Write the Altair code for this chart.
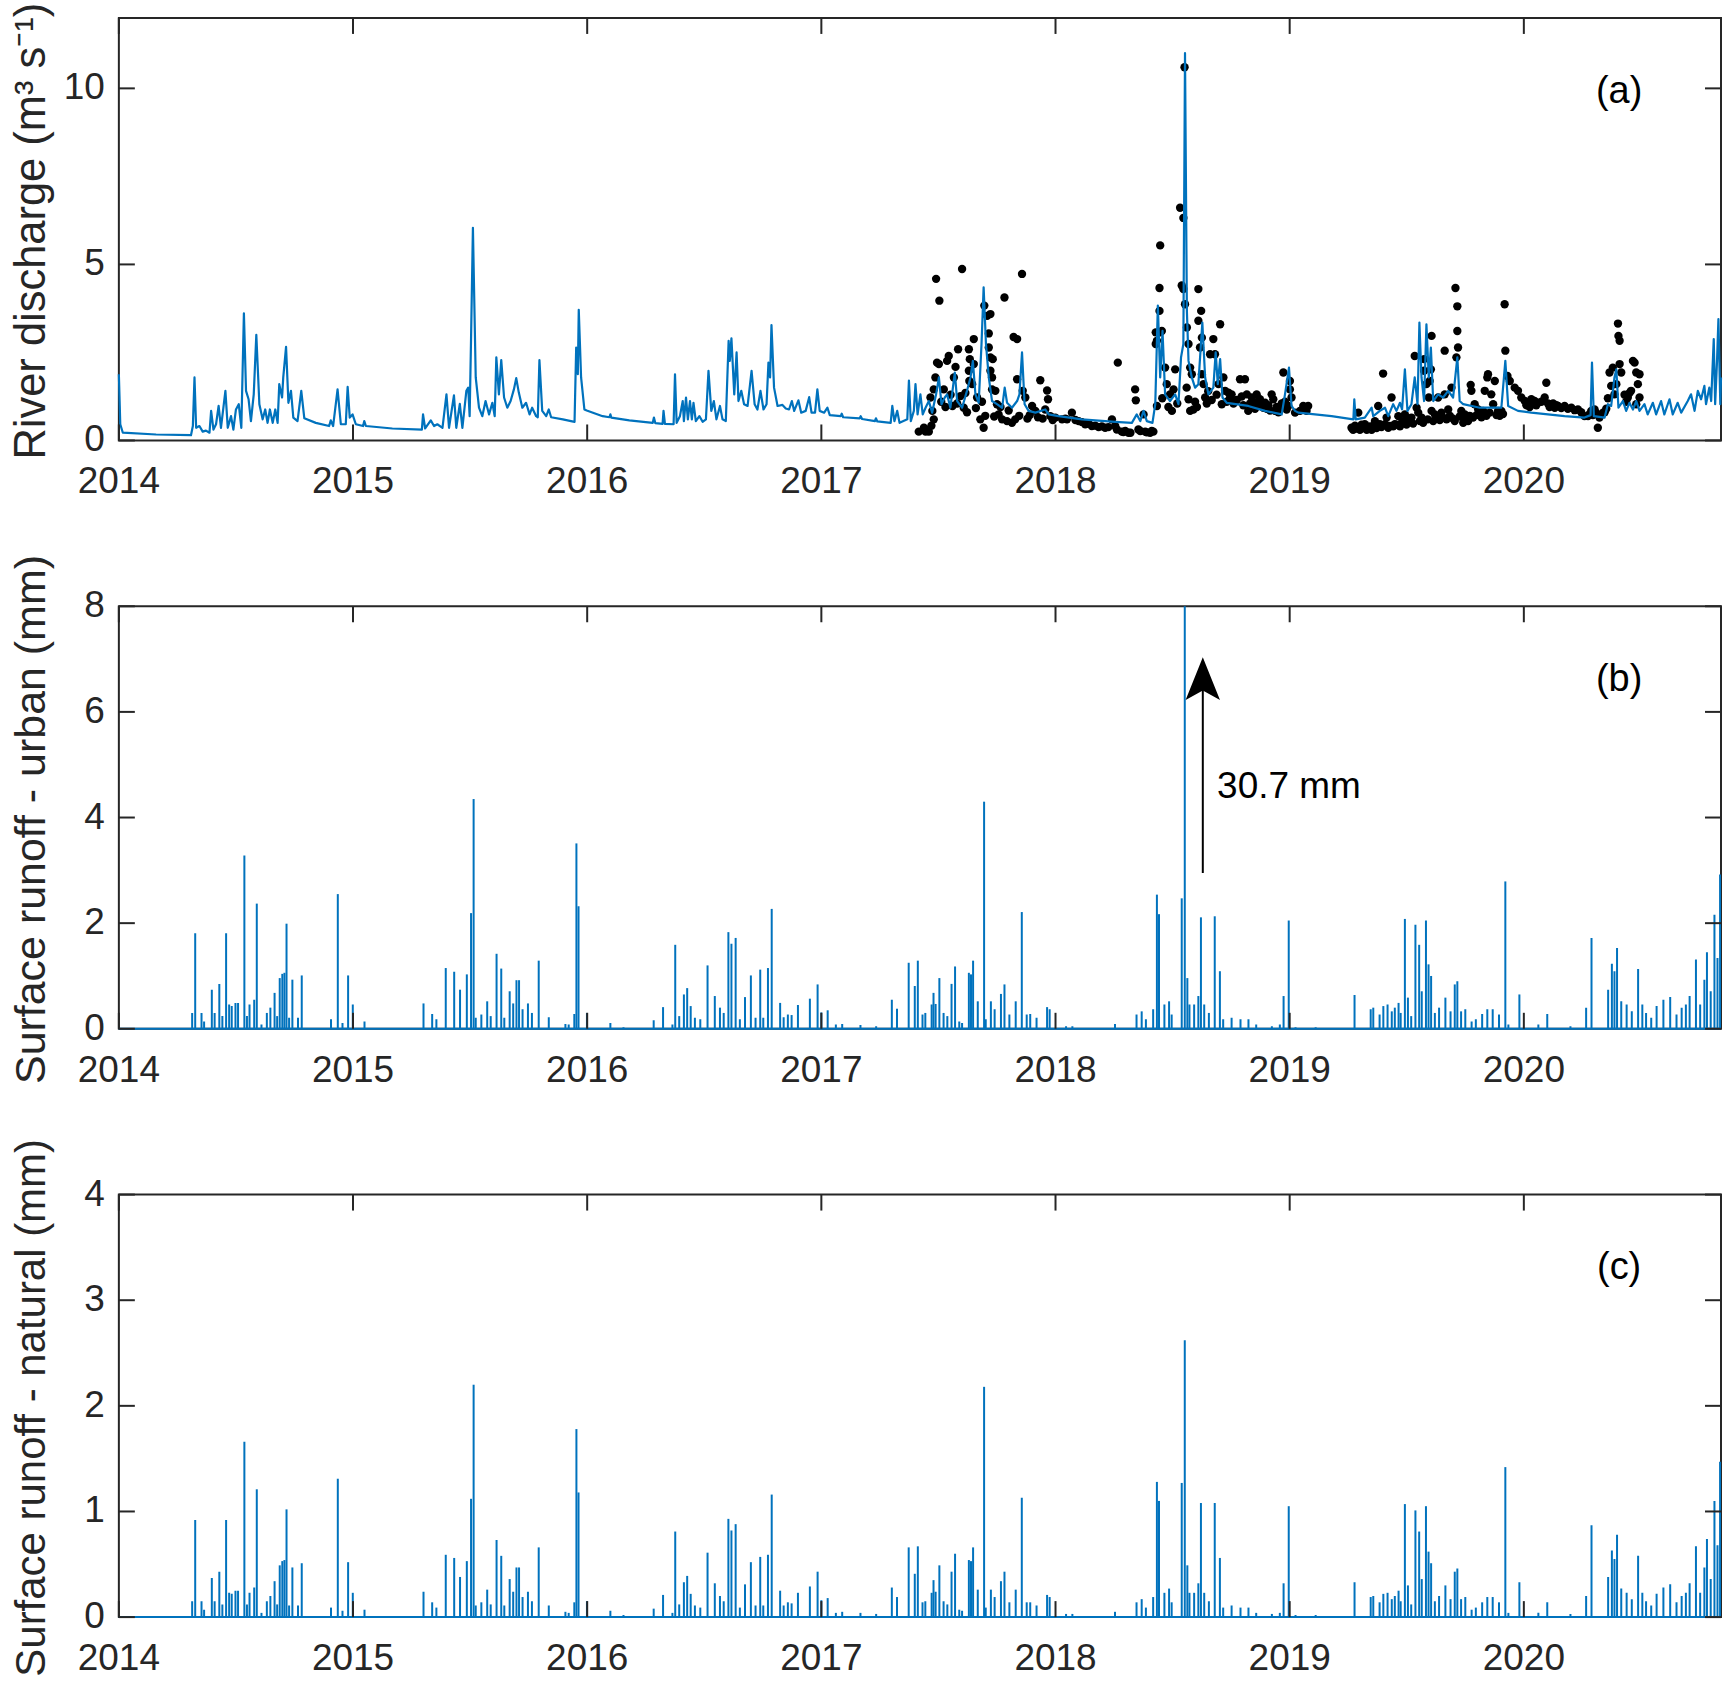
import altair as alt
import pandas as pd

FONT = "Liberation Sans"
INK = "#262626"
BLUE = "#0072BD"
X0, X1 = 2014.0, 2020.842
W, H = 1604, 423
TICK = 16

year_ticks = [2014, 2015, 2016, 2017, 2018, 2019, 2020]

# Simulated river discharge (decimal year, m3/s)
sim_2014 = [
    (2014.000, 1.88), (2014.006, 0.46), (2014.017, 0.22), (2014.159, 0.17), (2014.308, 0.15),
    (2014.316, 0.41), (2014.323, 1.79), (2014.330, 0.36), (2014.344, 0.41), (2014.358, 0.25),
    (2014.372, 0.28), (2014.387, 0.22), (2014.394, 0.84), (2014.404, 0.31), (2014.415, 0.46),
    (2014.426, 0.98), (2014.436, 0.36), (2014.455, 1.41), (2014.465, 0.36), (2014.479, 0.69),
    (2014.489, 0.31), (2014.500, 0.88), (2014.512, 1.03), (2014.523, 0.36), (2014.534, 3.61),
    (2014.543, 1.41), (2014.554, 1.17), (2014.564, 0.55), (2014.576, 1.31), (2014.587, 3.00),
    (2014.600, 1.03), (2014.614, 0.60), (2014.625, 0.88), (2014.635, 0.50), (2014.645, 0.88),
    (2014.657, 0.50), (2014.668, 0.88), (2014.678, 0.50), (2014.685, 1.60), (2014.697, 1.22),
    (2014.702, 1.79), (2014.714, 2.66), (2014.724, 1.07), (2014.735, 1.41), (2014.745, 0.65),
    (2014.763, 0.55), (2014.779, 1.41), (2014.792, 0.63), (2014.841, 0.50), (2014.898, 0.41),
    (2014.905, 0.57), (2014.915, 0.41), (2014.934, 1.45), (2014.948, 0.46), (2014.969, 0.46),
    (2014.977, 1.52), (2014.986, 0.65), (2014.998, 0.74),
]
sim_2015 = [
    (2015.012, 0.46), (2015.043, 0.41), (2015.048, 0.55), (2015.055, 0.41), (2015.168, 0.34),
    (2015.294, 0.31), (2015.299, 0.74), (2015.308, 0.34), (2015.332, 0.57), (2015.346, 0.41),
    (2015.360, 0.46), (2015.382, 0.36), (2015.399, 1.31), (2015.410, 0.36), (2015.431, 1.28),
    (2015.441, 0.36), (2015.456, 1.04), (2015.467, 0.36), (2015.484, 1.41), (2015.492, 1.50),
    (2015.498, 0.69), (2015.504, 2.88), (2015.512, 6.04), (2015.524, 1.79), (2015.538, 0.93),
    (2015.552, 0.69), (2015.566, 1.12), (2015.581, 0.74), (2015.595, 1.07), (2015.605, 0.69),
    (2015.612, 2.36), (2015.623, 1.31), (2015.633, 2.28), (2015.645, 1.22), (2015.659, 0.93),
    (2015.673, 1.12), (2015.687, 1.45), (2015.697, 1.77), (2015.708, 1.36), (2015.723, 0.93),
    (2015.739, 1.07), (2015.754, 0.74), (2015.765, 0.93), (2015.782, 0.69), (2015.789, 0.66),
    (2015.796, 2.28), (2015.808, 0.84), (2015.825, 0.69), (2015.836, 0.88), (2015.846, 0.66),
    (2015.896, 0.60), (2015.946, 0.53), (2015.953, 2.64), (2015.960, 1.88), (2015.964, 3.71),
    (2015.974, 1.79), (2015.988, 0.88), (2015.998, 0.85),
]
sim_2016 = [
    (2016.066, 0.69), (2016.095, 0.66), (2016.099, 0.74), (2016.103, 0.65), (2016.180, 0.57),
    (2016.280, 0.50), (2016.285, 0.65), (2016.291, 0.49), (2016.322, 0.47), (2016.326, 0.84),
    (2016.332, 0.47), (2016.369, 0.46), (2016.375, 1.88), (2016.382, 0.50), (2016.396, 0.69),
    (2016.408, 1.12), (2016.413, 0.55), (2016.422, 1.22), (2016.430, 0.60), (2016.439, 1.12),
    (2016.447, 0.60), (2016.454, 1.07), (2016.464, 0.55), (2016.479, 0.69), (2016.493, 0.53),
    (2016.507, 0.60), (2016.518, 1.98), (2016.530, 0.84), (2016.541, 1.12), (2016.552, 0.60),
    (2016.567, 0.98), (2016.578, 0.60), (2016.592, 0.55), (2016.604, 2.83), (2016.609, 2.26),
    (2016.616, 2.90), (2016.628, 1.31), (2016.638, 2.50), (2016.646, 1.12), (2016.658, 1.41),
    (2016.670, 1.03), (2016.685, 0.98), (2016.702, 1.98), (2016.715, 1.03), (2016.727, 0.88),
    (2016.740, 1.41), (2016.753, 0.88), (2016.766, 1.03), (2016.774, 2.21), (2016.781, 1.79),
    (2016.787, 3.28), (2016.798, 1.50), (2016.813, 0.98), (2016.834, 1.01), (2016.848, 0.91),
    (2016.862, 0.88), (2016.874, 1.12), (2016.884, 0.84), (2016.902, 1.14), (2016.914, 0.79),
    (2016.933, 0.84), (2016.948, 1.23), (2016.958, 0.79), (2016.973, 0.79), (2016.983, 1.45),
    (2016.993, 0.84),
]
sim_2017 = [
    (2017.012, 0.79), (2017.026, 0.93), (2017.036, 0.72), (2017.083, 0.69), (2017.087, 0.76),
    (2017.093, 0.66), (2017.164, 0.63), (2017.168, 0.69), (2017.174, 0.61), (2017.229, 0.55),
    (2017.233, 0.63), (2017.239, 0.54), (2017.296, 0.50), (2017.303, 0.98), (2017.312, 0.55),
    (2017.324, 0.84), (2017.334, 0.50), (2017.367, 0.60), (2017.374, 1.70), (2017.382, 0.55),
    (2017.395, 0.84), (2017.402, 1.60), (2017.411, 0.74), (2017.423, 1.31), (2017.433, 0.74),
    (2017.445, 0.93), (2017.459, 1.12), (2017.473, 0.79), (2017.490, 1.31), (2017.502, 1.79),
    (2017.513, 1.03), (2017.527, 1.22), (2017.537, 1.31), (2017.551, 0.93), (2017.570, 1.93),
    (2017.580, 1.12), (2017.601, 0.93), (2017.622, 1.41), (2017.637, 1.79), (2017.647, 2.26),
    (2017.658, 1.31), (2017.672, 1.07), (2017.684, 2.74), (2017.693, 4.35), (2017.703, 2.74),
    (2017.715, 1.79), (2017.729, 1.12), (2017.750, 1.03), (2017.772, 0.93), (2017.783, 1.50),
    (2017.793, 1.07), (2017.814, 0.93), (2017.836, 1.12), (2017.846, 1.31), (2017.857, 2.50),
    (2017.868, 1.03), (2017.885, 0.84), (2017.914, 0.79), (2017.956, 0.88), (2017.971, 0.74),
]
sim_2018 = [
    (2018.013, 0.69), (2018.113, 0.60), (2018.255, 0.53), (2018.326, 0.50), (2018.347, 0.74),
    (2018.362, 0.55), (2018.376, 0.84), (2018.390, 0.55), (2018.414, 0.50), (2018.426, 1.03),
    (2018.437, 3.83), (2018.447, 1.79), (2018.457, 3.11), (2018.468, 1.31), (2018.489, 1.12),
    (2018.511, 1.31), (2018.525, 1.03), (2018.536, 2.36), (2018.546, 2.74), (2018.553, 11.0),
    (2018.561, 3.68), (2018.568, 2.26), (2018.582, 1.79), (2018.596, 1.50), (2018.610, 1.60),
    (2018.627, 3.35), (2018.639, 1.79), (2018.653, 1.31), (2018.674, 1.50), (2018.684, 2.50),
    (2018.693, 1.60), (2018.703, 2.31), (2018.713, 1.22), (2018.731, 1.07), (2018.823, 0.98),
    (2018.895, 0.84), (2018.966, 0.74), (2018.980, 1.31), (2018.997, 2.07),
]
sim_2019 = [
    (2019.008, 0.98), (2019.023, 0.84), (2019.037, 0.79), (2019.179, 0.69), (2019.272, 0.60),
    (2019.276, 1.17), (2019.282, 0.60), (2019.321, 0.65), (2019.350, 0.93), (2019.357, 0.69),
    (2019.385, 0.84), (2019.407, 0.93), (2019.421, 0.69), (2019.442, 1.03), (2019.456, 0.84),
    (2019.471, 1.07), (2019.480, 0.88), (2019.492, 2.02), (2019.503, 0.84), (2019.520, 1.03),
    (2019.534, 1.79), (2019.546, 1.03), (2019.554, 3.35), (2019.563, 1.79), (2019.574, 1.12),
    (2019.584, 3.30), (2019.594, 1.79), (2019.603, 2.64), (2019.613, 1.12), (2019.634, 1.31),
    (2019.655, 1.22), (2019.677, 1.41), (2019.698, 1.22), (2019.716, 2.36), (2019.726, 1.12),
    (2019.741, 1.03), (2019.812, 0.93), (2019.904, 0.93), (2019.921, 2.26), (2019.933, 0.98),
    (2019.975, 0.84),
]
sim_2020 = [
    (2020.032, 0.79), (2020.174, 0.69), (2020.259, 0.65), (2020.285, 0.72), (2020.291, 2.21),
    (2020.299, 0.69), (2020.345, 0.65), (2020.359, 1.03), (2020.373, 0.98), (2020.387, 1.79),
    (2020.395, 2.02), (2020.404, 0.93), (2020.423, 1.12), (2020.437, 0.84), (2020.451, 1.07),
    (2020.466, 0.88), (2020.480, 1.12), (2020.494, 0.84), (2020.515, 1.03), (2020.529, 0.74),
    (2020.551, 1.07), (2020.565, 0.74), (2020.586, 1.12), (2020.600, 0.74), (2020.622, 1.17),
    (2020.636, 0.74), (2020.657, 1.07), (2020.672, 0.79), (2020.700, 1.12), (2020.714, 1.31),
    (2020.729, 0.84), (2020.743, 1.41), (2020.757, 1.17), (2020.771, 1.55), (2020.778, 1.03),
    (2020.792, 1.50), (2020.800, 1.12), (2020.811, 2.88), (2020.817, 1.03), (2020.825, 2.26),
    (2020.831, 3.45), (2020.839, 1.03), (2020.842, 1.79),
]

# Observed river discharge (decimal year, m3/s)
obs_2017 = [
    (2017.416, 0.25), (2017.438, 0.36), (2017.445, 0.25), (2017.459, 0.25), (2017.466, 1.22),
    (2017.474, 0.84), (2017.480, 0.60), (2017.480, 1.45), (2017.487, 1.79), (2017.490, 4.59),
    (2017.494, 2.21), (2017.502, 2.17), (2017.504, 3.97), (2017.523, 1.45), (2017.537, 2.26),
    (2017.544, 2.40), (2017.566, 1.79), (2017.573, 2.09), (2017.584, 2.59), (2017.594, 1.26),
    (2017.601, 4.87), (2017.608, 0.93), (2017.630, 2.59), (2017.634, 2.31), (2017.630, 1.98),
    (2017.632, 1.69), (2017.644, 1.60), (2017.651, 2.88), (2017.651, 2.17), (2017.665, 1.22),
    (2017.679, 0.60), (2017.693, 0.36), (2017.696, 3.83), (2017.708, 3.54), (2017.715, 3.04),
    (2017.715, 2.64), (2017.722, 3.59), (2017.722, 2.36), (2017.722, 1.98), (2017.729, 1.79),
    (2017.729, 1.45), (2017.732, 2.31), (2017.743, 1.41), (2017.750, 1.03), (2017.757, 0.74),
    (2017.772, 0.60), (2017.782, 4.06), (2017.793, 0.55), (2017.814, 0.50), (2017.821, 2.94),
    (2017.836, 2.88), (2017.836, 1.74), (2017.857, 4.73), (2017.860, 1.41), (2017.871, 1.22),
    (2017.900, 0.98), (2017.914, 0.84), (2017.935, 1.71), (2017.956, 0.88), (2017.964, 1.42),
    (2017.968, 1.17), (2017.978, 0.69), (2017.999, 0.65),
    (2017.452, 0.30), (2017.470, 0.42), (2017.512, 1.10), (2017.530, 0.95), (2017.552, 1.30),
    (2017.560, 0.98), (2017.580, 1.05), (2017.615, 1.35), (2017.622, 0.80), (2017.660, 0.92),
    (2017.686, 1.10), (2017.700, 0.70), (2017.738, 0.68), (2017.765, 0.95), (2017.800, 0.85),
    (2017.828, 0.60), (2017.845, 0.70), (2017.880, 0.62), (2017.890, 0.72), (2017.925, 0.66),
    (2017.945, 0.62), (2017.988, 0.58),
]
obs_2018 = [
    (2018.028, 0.60), (2018.042, 0.62), (2018.049, 0.60), (2018.070, 0.79), (2018.085, 0.58),
    (2018.099, 0.55), (2018.113, 0.52), (2018.127, 0.46), (2018.141, 0.48), (2018.155, 0.41),
    (2018.170, 0.42), (2018.184, 0.38), (2018.198, 0.40), (2018.212, 0.36), (2018.226, 0.38),
    (2018.241, 0.60), (2018.255, 0.41), (2018.262, 0.31), (2018.266, 2.21), (2018.283, 0.25),
    (2018.290, 0.24), (2018.298, 0.27), (2018.312, 0.22), (2018.320, 0.22), (2018.340, 1.45),
    (2018.343, 1.14), (2018.354, 0.31), (2018.362, 0.27), (2018.376, 0.74), (2018.383, 0.25),
    (2018.390, 0.23), (2018.404, 0.22), (2018.411, 0.27), (2018.418, 0.25), (2018.428, 2.74),
    (2018.428, 3.07), (2018.433, 0.98), (2018.433, 2.83), (2018.444, 4.33), (2018.444, 3.68),
    (2018.447, 5.54), (2018.447, 3.07), (2018.454, 3.11), (2018.468, 2.07), (2018.475, 1.60),
    (2018.489, 1.31), (2018.497, 0.84), (2018.511, 2.02), (2018.532, 6.61), (2018.539, 4.40),
    (2018.546, 6.32), (2018.546, 4.30), (2018.551, 10.6), (2018.553, 3.87), (2018.561, 3.21),
    (2018.568, 2.74), (2018.568, 1.17), (2018.575, 2.07), (2018.575, 0.84), (2018.582, 1.88),
    (2018.589, 0.88), (2018.610, 4.30), (2018.610, 3.40), (2018.617, 2.64), (2018.622, 3.68),
    (2018.625, 2.92), (2018.625, 1.88), (2018.632, 1.60), (2018.639, 1.22), (2018.660, 2.45),
    (2018.674, 2.88), (2018.681, 2.45), (2018.696, 1.60), (2018.703, 3.30), (2018.710, 1.03),
    (2018.717, 1.79), (2018.724, 1.41), (2018.738, 1.36), (2018.752, 1.31), (2018.788, 1.74),
    (2018.809, 1.74), (2018.817, 1.31), (2018.823, 0.84), (2018.838, 1.22), (2018.859, 1.31),
    (2018.873, 1.17), (2018.888, 0.93), (2018.895, 1.07), (2018.923, 1.31), (2018.930, 1.17),
    (2018.937, 0.84), (2018.973, 1.93), (2018.994, 0.98),
    (2018.456, 1.20), (2018.482, 0.95), (2018.504, 1.45), (2018.520, 1.05), (2018.560, 1.50),
    (2018.596, 1.10), (2018.604, 0.95), (2018.646, 1.05), (2018.652, 1.40), (2018.667, 1.15),
    (2018.688, 1.30), (2018.731, 1.10), (2018.745, 1.20), (2018.760, 1.05), (2018.774, 1.15),
    (2018.795, 1.25), (2018.802, 1.00), (2018.831, 1.05), (2018.845, 1.10), (2018.852, 0.90),
    (2018.866, 1.00), (2018.880, 1.05), (2018.902, 0.90), (2018.909, 1.00), (2018.916, 0.85),
    (2018.944, 0.95), (2018.952, 0.80), (2018.959, 0.90), (2018.966, 1.05), (2018.980, 1.10),
    (2018.987, 0.88),
]
obs_2019 = [
    (2019.001, 1.69), (2019.001, 1.45), (2019.008, 1.22), (2019.023, 0.79), (2019.044, 0.84),
    (2019.058, 0.98), (2019.072, 0.84), (2019.079, 0.98), (2019.264, 0.36), (2019.286, 0.34),
    (2019.293, 0.79), (2019.314, 0.36), (2019.321, 0.46), (2019.336, 0.34), (2019.357, 0.41),
    (2019.364, 0.55), (2019.378, 0.98), (2019.385, 0.46), (2019.399, 1.90), (2019.407, 0.46),
    (2019.414, 0.65), (2019.428, 0.41), (2019.435, 1.22), (2019.449, 0.46), (2019.464, 0.69),
    (2019.478, 0.50), (2019.492, 0.74), (2019.506, 0.60), (2019.520, 0.65), (2019.534, 2.40),
    (2019.542, 0.93), (2019.549, 0.79), (2019.563, 0.65), (2019.574, 2.31), (2019.574, 1.98),
    (2019.584, 1.60), (2019.606, 2.97), (2019.603, 2.02), (2019.598, 1.69), (2019.594, 1.22),
    (2019.606, 0.84), (2019.620, 0.74), (2019.634, 1.22), (2019.648, 0.79), (2019.662, 2.55),
    (2019.662, 1.31), (2019.677, 0.88), (2019.691, 1.50), (2019.705, 0.55), (2019.708, 4.33),
    (2019.716, 3.81), (2019.716, 3.11), (2019.719, 2.64), (2019.712, 2.36), (2019.733, 0.84),
    (2019.741, 0.50), (2019.748, 0.74), (2019.762, 0.55), (2019.773, 1.58), (2019.776, 1.41),
    (2019.790, 1.03), (2019.805, 0.88), (2019.812, 0.74), (2019.826, 0.84), (2019.833, 1.41),
    (2019.847, 1.88), (2019.844, 1.79), (2019.854, 0.79), (2019.861, 1.31), (2019.869, 1.03),
    (2019.876, 1.69), (2019.890, 0.84), (2019.904, 0.84), (2019.918, 3.87), (2019.921, 2.55),
    (2019.930, 1.83), (2019.940, 1.69), (2019.961, 1.50), (2019.975, 1.41), (2019.989, 1.22),
    (2019.271, 0.30), (2019.279, 0.42), (2019.300, 0.30), (2019.307, 0.45), (2019.329, 0.30),
    (2019.343, 0.40), (2019.350, 0.30), (2019.371, 0.35), (2019.392, 0.38), (2019.421, 0.36),
    (2019.442, 0.40), (2019.456, 0.45), (2019.471, 0.40), (2019.485, 0.55), (2019.499, 0.45),
    (2019.513, 0.52), (2019.527, 0.48), (2019.556, 0.55), (2019.570, 0.50), (2019.590, 0.60),
    (2019.613, 0.55), (2019.627, 0.62), (2019.641, 0.58), (2019.655, 0.65), (2019.670, 0.60),
    (2019.684, 0.70), (2019.698, 0.62), (2019.726, 0.68), (2019.755, 0.62), (2019.769, 0.70),
    (2019.783, 0.65), (2019.798, 0.72), (2019.819, 0.66), (2019.840, 0.70), (2019.883, 0.72),
    (2019.897, 0.70), (2019.911, 0.75),
]
obs_2020 = [
    (2020.004, 1.12), (2020.018, 1.07), (2020.032, 1.17), (2020.046, 1.12), (2020.060, 1.07),
    (2020.089, 1.22), (2020.096, 1.64), (2020.117, 1.03), (2020.132, 0.93), (2020.146, 0.98),
    (2020.174, 0.98), (2020.203, 0.93), (2020.231, 0.88), (2020.259, 0.69), (2020.274, 0.69),
    (2020.288, 0.84), (2020.302, 0.88), (2020.316, 0.36), (2020.323, 0.65), (2020.338, 0.79),
    (2020.366, 1.93), (2020.380, 2.07), (2020.402, 3.32), (2020.404, 2.97), (2020.409, 2.83),
    (2020.409, 2.17), (2020.416, 1.93), (2020.373, 1.55), (2020.387, 1.31), (2020.444, 1.22),
    (2020.458, 1.41), (2020.466, 2.26), (2020.473, 2.21), (2020.480, 1.93), (2020.487, 1.60),
    (2020.494, 1.88), (2020.494, 1.22), (2020.480, 1.03),
    (2020.011, 1.00), (2020.025, 0.95), (2020.053, 1.00), (2020.075, 1.10), (2020.103, 1.05),
    (2020.110, 0.95), (2020.125, 1.05), (2020.139, 1.00), (2020.160, 0.92), (2020.188, 0.90),
    (2020.217, 0.86), (2020.245, 0.80), (2020.281, 0.75), (2020.295, 0.72), (2020.309, 0.78),
    (2020.345, 0.80), (2020.352, 0.90), (2020.359, 1.20), (2020.395, 1.60), (2020.430, 1.30),
    (2020.437, 1.10), (2020.451, 1.35),
]

# Daily surface runoff events: (decimal year, urban mm, natural mm)
runoff_2014 = [
    (2014.313, 0.30, 0.15), (2014.326, 1.81, 0.92), (2014.353, 0.30, 0.15), (2014.364, 0.14, 0.07),
    (2014.397, 0.74, 0.37), (2014.409, 0.30, 0.15), (2014.429, 0.85, 0.43), (2014.442, 0.24, 0.12),
    (2014.458, 1.81, 0.92), (2014.471, 0.46, 0.23), (2014.482, 0.43, 0.22), (2014.498, 0.49, 0.25),
    (2014.509, 0.49, 0.25), (2014.536, 3.28, 1.66), (2014.547, 0.24, 0.12), (2014.558, 0.46, 0.23),
    (2014.578, 0.55, 0.28), (2014.589, 2.37, 1.21), (2014.609, 0.08, 0.04), (2014.632, 0.30, 0.15),
    (2014.647, 0.40, 0.20), (2014.665, 0.68, 0.34), (2014.676, 0.24, 0.12), (2014.687, 0.96, 0.49),
    (2014.698, 1.04, 0.53), (2014.707, 1.06, 0.54), (2014.716, 1.99, 1.02), (2014.727, 0.21, 0.11),
    (2014.741, 0.93, 0.47), (2014.765, 0.21, 0.11), (2014.781, 1.01, 0.51), (2014.906, 0.18, 0.09),
    (2014.935, 2.55, 1.31), (2014.955, 0.11, 0.06), (2014.979, 1.01, 0.52), (2014.999, 0.46, 0.23),
]
runoff_2015 = [
    (2015.049, 0.14, 0.07), (2015.301, 0.48, 0.24), (2015.338, 0.28, 0.14), (2015.356, 0.18, 0.09),
    (2015.396, 1.15, 0.59), (2015.432, 1.08, 0.56), (2015.457, 0.74, 0.38), (2015.486, 1.03, 0.53),
    (2015.504, 2.19, 1.12), (2015.515, 4.35, 2.20), (2015.524, 0.21, 0.11), (2015.548, 0.27, 0.14),
    (2015.573, 0.52, 0.26), (2015.588, 0.24, 0.12), (2015.613, 1.42, 0.73), (2015.633, 1.14, 0.58),
    (2015.646, 0.21, 0.11), (2015.669, 0.71, 0.36), (2015.684, 0.48, 0.24), (2015.698, 0.92, 0.47),
    (2015.709, 0.92, 0.47), (2015.724, 0.37, 0.19), (2015.747, 0.48, 0.24), (2015.764, 0.30, 0.15),
    (2015.793, 1.29, 0.66), (2015.836, 0.22, 0.11), (2015.907, 0.09, 0.05), (2015.921, 0.08, 0.04),
    (2015.945, 0.28, 0.14), (2015.954, 3.51, 1.78), (2015.963, 2.32, 1.18), (2015.999, 0.30, 0.15),
]
runoff_2016 = [
    (2016.099, 0.11, 0.06), (2016.155, 0.03, 0.02), (2016.284, 0.16, 0.08), (2016.324, 0.41, 0.21),
    (2016.364, 0.08, 0.04), (2016.376, 1.59, 0.81), (2016.393, 0.24, 0.12), (2016.413, 0.65, 0.33),
    (2016.427, 0.77, 0.39), (2016.442, 0.43, 0.22), (2016.460, 0.21, 0.11), (2016.483, 0.18, 0.09),
    (2016.514, 1.20, 0.61), (2016.545, 0.62, 0.32), (2016.567, 0.40, 0.20), (2016.583, 0.30, 0.15),
    (2016.603, 1.83, 0.93), (2016.616, 1.61, 0.82), (2016.634, 1.72, 0.88), (2016.652, 0.18, 0.09),
    (2016.674, 0.60, 0.31), (2016.699, 1.01, 0.52), (2016.719, 0.21, 0.11), (2016.739, 1.12, 0.57),
    (2016.752, 0.21, 0.11), (2016.772, 1.15, 0.59), (2016.788, 2.27, 1.16), (2016.824, 0.49, 0.25),
    (2016.839, 0.22, 0.11), (2016.857, 0.27, 0.14), (2016.873, 0.26, 0.13), (2016.900, 0.45, 0.23),
    (2016.951, 0.57, 0.29), (2016.984, 0.84, 0.43),
]
runoff_2017 = [
    (2017.000, 0.31, 0.16), (2017.027, 0.35, 0.18), (2017.062, 0.08, 0.04), (2017.089, 0.09, 0.05),
    (2017.167, 0.07, 0.04), (2017.234, 0.05, 0.03), (2017.301, 0.55, 0.28), (2017.323, 0.38, 0.19),
    (2017.373, 1.25, 0.66), (2017.399, 0.81, 0.41), (2017.412, 1.29, 0.67), (2017.432, 0.27, 0.14),
    (2017.444, 0.30, 0.15), (2017.471, 0.46, 0.23), (2017.479, 0.68, 0.35), (2017.488, 0.47, 0.24),
    (2017.504, 0.96, 0.49), (2017.522, 0.30, 0.15), (2017.538, 0.24, 0.12), (2017.556, 0.85, 0.43),
    (2017.571, 1.18, 0.60), (2017.589, 0.14, 0.07), (2017.601, 0.11, 0.06), (2017.630, 1.06, 0.54),
    (2017.639, 1.03, 0.53), (2017.648, 1.29, 0.66), (2017.668, 0.52, 0.26), (2017.695, 4.30, 2.18),
    (2017.702, 0.18, 0.09), (2017.724, 0.52, 0.26), (2017.740, 0.37, 0.19), (2017.767, 0.66, 0.34),
    (2017.782, 0.84, 0.43), (2017.803, 0.27, 0.14), (2017.830, 0.52, 0.26), (2017.856, 2.21, 1.13),
    (2017.877, 0.27, 0.14), (2017.892, 0.28, 0.14), (2017.919, 0.21, 0.11), (2017.964, 0.41, 0.21),
    (2017.975, 0.37, 0.19),
]
runoff_2018 = [
    (2018.045, 0.05, 0.03), (2018.072, 0.05, 0.03), (2018.254, 0.09, 0.05), (2018.346, 0.27, 0.14),
    (2018.368, 0.33, 0.17), (2018.386, 0.18, 0.09), (2018.417, 0.37, 0.19), (2018.433, 2.54, 1.28),
    (2018.442, 2.17, 1.10), (2018.465, 0.46, 0.23), (2018.485, 0.52, 0.27), (2018.496, 0.27, 0.14),
    (2018.539, 2.47, 1.27), (2018.552, 30.7, 2.62), (2018.563, 0.96, 0.49), (2018.572, 0.46, 0.23),
    (2018.592, 0.46, 0.23), (2018.610, 0.62, 0.32), (2018.621, 2.11, 1.08), (2018.635, 0.46, 0.23),
    (2018.655, 0.30, 0.15), (2018.680, 2.13, 1.08), (2018.702, 1.09, 0.56), (2018.716, 0.18, 0.09),
    (2018.752, 0.21, 0.11), (2018.790, 0.18, 0.09), (2018.824, 0.18, 0.09), (2018.857, 0.08, 0.04),
    (2018.924, 0.05, 0.03), (2018.958, 0.08, 0.04), (2018.974, 0.62, 0.32), (2018.996, 2.05, 1.05),
]
runoff_2019 = [
    (2019.025, 0.03, 0.02), (2019.111, 0.03, 0.02), (2019.277, 0.64, 0.33), (2019.346, 0.37, 0.19),
    (2019.357, 0.40, 0.20), (2019.384, 0.27, 0.14), (2019.400, 0.43, 0.22), (2019.418, 0.46, 0.23),
    (2019.436, 0.33, 0.17), (2019.449, 0.40, 0.20), (2019.465, 0.49, 0.25), (2019.474, 0.30, 0.15),
    (2019.492, 2.08, 1.07), (2019.505, 0.59, 0.30), (2019.519, 0.24, 0.12), (2019.537, 1.97, 1.01),
    (2019.553, 1.59, 0.81), (2019.564, 0.71, 0.36), (2019.582, 2.05, 1.05), (2019.593, 1.22, 0.62),
    (2019.604, 1.00, 0.51), (2019.620, 0.30, 0.15), (2019.638, 0.40, 0.20), (2019.665, 0.59, 0.30),
    (2019.687, 0.33, 0.17), (2019.705, 0.84, 0.43), (2019.716, 0.90, 0.46), (2019.732, 0.33, 0.17),
    (2019.750, 0.37, 0.19), (2019.777, 0.14, 0.07), (2019.795, 0.18, 0.09), (2019.822, 0.28, 0.14),
    (2019.844, 0.37, 0.19), (2019.867, 0.37, 0.19), (2019.894, 0.27, 0.14), (2019.921, 2.79, 1.42),
    (2019.934, 0.08, 0.04), (2019.981, 0.65, 0.33),
]
runoff_2020 = [
    (2020.062, 0.08, 0.04), (2020.100, 0.28, 0.14), (2020.199, 0.05, 0.03), (2020.266, 0.40, 0.20),
    (2020.289, 1.72, 0.87), (2020.360, 0.74, 0.38), (2020.376, 1.23, 0.63), (2020.387, 1.09, 0.55),
    (2020.398, 1.53, 0.78), (2020.416, 0.52, 0.27), (2020.439, 0.46, 0.23), (2020.461, 0.33, 0.17),
    (2020.488, 1.13, 0.58), (2020.506, 0.46, 0.23), (2020.522, 0.30, 0.15), (2020.544, 0.21, 0.11),
    (2020.567, 0.43, 0.22), (2020.596, 0.55, 0.28), (2020.625, 0.60, 0.31), (2020.652, 0.27, 0.14),
    (2020.674, 0.40, 0.20), (2020.692, 0.46, 0.23), (2020.708, 0.62, 0.32), (2020.735, 1.31, 0.67),
    (2020.753, 0.46, 0.23), (2020.771, 0.93, 0.47), (2020.782, 1.45, 0.74), (2020.798, 0.71, 0.36),
    (2020.814, 2.16, 1.10), (2020.827, 1.34, 0.68), (2020.838, 2.92, 1.47),
]

sim = pd.DataFrame(sim_2014 + sim_2015 + sim_2016 + sim_2017 + sim_2018 + sim_2019 + sim_2020,
                   columns=["year", "q"])
obs = pd.DataFrame(obs_2017 + obs_2018 + obs_2019 + obs_2020, columns=["year", "q"])
runoff = pd.DataFrame(runoff_2014 + runoff_2015 + runoff_2016 + runoff_2017 + runoff_2018
                      + runoff_2019 + runoff_2020, columns=["year", "urban", "natural"])
runoff["base"] = 0.0

# Annotation for the off-scale urban runoff event
peak = runoff.loc[runoff["urban"].idxmax()]
ARROW_X, ARROW_LO, ARROW_HI, HEAD_Y = 2018.629, 2.95, 6.5, 6.63
LABEL_X, LABEL_Y = 2018.69, 4.58

xscale = alt.Scale(domain=[X0, X1], nice=False, zero=False)


def xenc():
    return alt.X("year:Q", scale=xscale, axis=None)


def frame(yscale, yvals, title, title_size):
    """Box ticks pointing inward, tick labels and the y title of one panel."""
    xt = pd.DataFrame({"year": year_ticks, "label": [str(y) for y in year_ticks]})
    yt = pd.DataFrame({"v": yvals, "label": [str(v) for v in yvals]})
    style = dict(color=INK, strokeWidth=2)
    ye = alt.Y("v:Q", scale=yscale, axis=None)
    label_style = dict(fontSize=37, font=FONT, color=INK)
    return [
        alt.Chart(xt).mark_rule(**style).encode(x=xenc(), y=alt.value(H), y2=alt.value(H - TICK)),
        alt.Chart(xt).mark_rule(**style).encode(x=xenc(), y=alt.value(0), y2=alt.value(TICK)),
        alt.Chart(yt).mark_rule(**style).encode(y=ye, x=alt.value(0), x2=alt.value(TICK)),
        alt.Chart(yt).mark_rule(**style).encode(y=ye, x=alt.value(W), x2=alt.value(W - TICK)),
        alt.Chart(xt).mark_text(align="center", baseline="middle", **label_style).encode(
            x=xenc(), y=alt.value(H + 42), text="label:N"),
        alt.Chart(yt).mark_text(align="right", baseline="middle", **label_style).encode(
            y=ye, x=alt.value(-14), text="label:N"),
        alt.Chart(pd.DataFrame({"t": [title]})).mark_text(
            angle=270, align="center", baseline="alphabetic", fontSize=title_size,
            font=FONT, color=INK).encode(
            text="t:N", x=alt.value(-74), y=alt.value(H / 2 + 2)),
    ]


def panel_tag(text):
    return alt.Chart(pd.DataFrame({"t": [text]})).mark_text(
        fontSize=38, font=FONT, color="black", align="center", baseline="middle"
    ).encode(text="t:N", x=alt.value(1502), y=alt.value(74))


def baseline(yscale):
    df = pd.DataFrame({"year": [X0], "year_end": [X1], "zero": [0.0]})
    return alt.Chart(df).mark_rule(color=BLUE, strokeWidth=2).encode(
        x=xenc(), x2="year_end:Q", y=alt.Y("zero:Q", scale=yscale, axis=None))


# (a) river discharge
ya = alt.Scale(domain=[0, 12], nice=False, zero=True)
dots = alt.Chart(obs).mark_circle(size=70, color="black", opacity=1).encode(
    x=xenc(), y=alt.Y("q:Q", scale=ya, axis=None))
line = alt.Chart(sim).mark_line(color=BLUE, strokeWidth=2.2, strokeJoin="round").encode(
    x=xenc(), y=alt.Y("q:Q", scale=ya, axis=None))
panel_a = alt.layer(
    dots, line, *frame(ya, [0, 5, 10], "River discharge (m³ s⁻¹)", 43.5), panel_tag("(a)")
).properties(width=W, height=H)

# (b) urban surface runoff
yb = alt.Scale(domain=[0, 8], nice=False, zero=True)
spikes_b = alt.Chart(runoff).mark_rule(color=BLUE, strokeWidth=2, clip=True).encode(
    x=xenc(), y=alt.Y("urban:Q", scale=yb, axis=None), y2="base:Q")
arrow_df = pd.DataFrame({"year": [ARROW_X], "lo": [ARROW_LO], "hi": [ARROW_HI], "head": [HEAD_Y]})
arrow_line = alt.Chart(arrow_df).mark_rule(color="black", strokeWidth=2).encode(
    x=xenc(), y=alt.Y("lo:Q", scale=yb, axis=None), y2="hi:Q")
arrow_head = alt.Chart(arrow_df).mark_point(
    shape="M0,-1 L0.8,1 L0,0.55 L-0.8,1 Z", filled=True, color="black", opacity=1, size=1850,
    strokeWidth=0).encode(x=xenc(), y=alt.Y("head:Q", scale=yb, axis=None))
label_df = pd.DataFrame({"year": [LABEL_X], "y": [LABEL_Y], "t": [f"{peak['urban']:.1f} mm"]})
arrow_label = alt.Chart(label_df).mark_text(
    fontSize=37, font=FONT, color="black", align="left", baseline="middle").encode(
    x=xenc(), y=alt.Y("y:Q", scale=yb, axis=None), text="t:N")
panel_b = alt.layer(
    baseline(yb), spikes_b,
    *frame(yb, [0, 2, 4, 6, 8], "Surface runoff - urban (mm)", 43),
    arrow_line, arrow_head, arrow_label, panel_tag("(b)")
).properties(width=W, height=H)

# (c) natural surface runoff
yc = alt.Scale(domain=[0, 4], nice=False, zero=True)
spikes_c = alt.Chart(runoff).mark_rule(color=BLUE, strokeWidth=2, clip=True).encode(
    x=xenc(), y=alt.Y("natural:Q", scale=yc, axis=None), y2="base:Q")
panel_c = alt.layer(
    baseline(yc), spikes_c,
    *frame(yc, [0, 1, 2, 3, 4], "Surface runoff - natural (mm)", 42),
    panel_tag("(c)")
).properties(width=W, height=H)

chart = alt.vconcat(panel_a, panel_b, panel_c, spacing=166, bounds="flush").properties(
    padding={"left": 8, "top": 0, "right": 1, "bottom": 0}, background="white"
).configure_view(stroke=INK, strokeWidth=2)

chart.save("out.html", embed_options={"renderer": "svg", "actions": False})
